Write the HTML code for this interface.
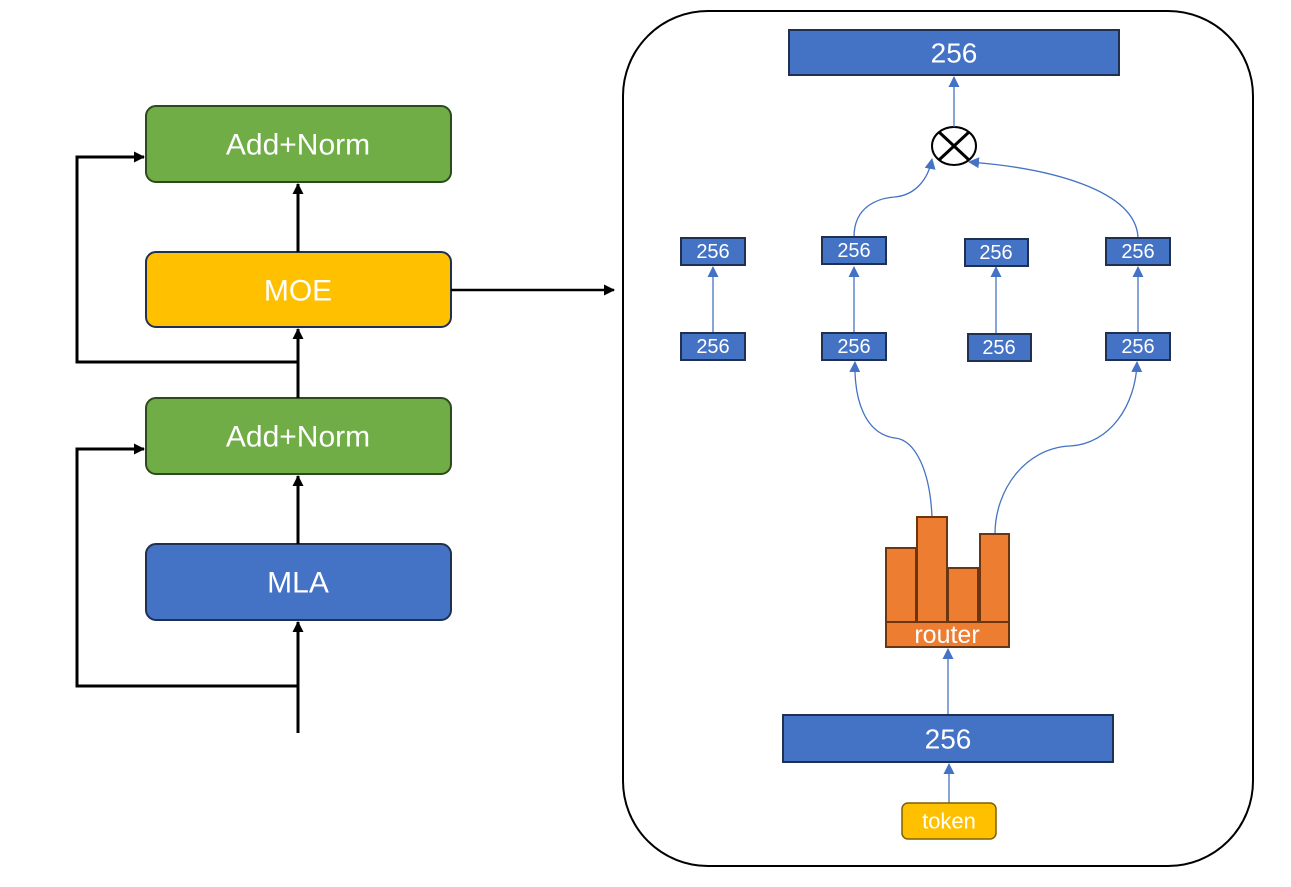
<!DOCTYPE html>
<html><head><meta charset="utf-8"><style>html,body{margin:0;padding:0;background:#fff}svg{display:block}text{font-family:"Liberation Sans",sans-serif;fill:#fff;text-anchor:middle;dominant-baseline:central}</style></head><body>
<svg width="1291" height="887" viewBox="0 0 1291 887" xmlns="http://www.w3.org/2000/svg">
<defs>
<marker id="ak" markerWidth="11" markerHeight="11" refX="10" refY="5.5" orient="auto" markerUnits="userSpaceOnUse"><path d="M0,0 L11,5.5 L0,11 z" fill="#000"/></marker>
<marker id="ab" markerWidth="11" markerHeight="11" refX="10" refY="5.5" orient="auto" markerUnits="userSpaceOnUse"><path d="M0,0 L11,5.5 L0,11 z" fill="#4472C4"/></marker>
</defs>
<rect x="146" y="106" width="305" height="76" rx="10" fill="#70AD47" stroke="#2E4A1C" stroke-width="2"/>
<text x="298" y="145" font-size="30">Add+Norm</text>
<rect x="146" y="252" width="305" height="75" rx="10" fill="#FFC000" stroke="#1F3050" stroke-width="2"/>
<text x="298" y="291" font-size="30">MOE</text>
<rect x="146" y="398" width="305" height="76" rx="10" fill="#70AD47" stroke="#2E4A1C" stroke-width="2"/>
<text x="298" y="437" font-size="30">Add+Norm</text>
<rect x="146" y="544" width="305" height="76" rx="10" fill="#4472C4" stroke="#1F3050" stroke-width="2"/>
<text x="298" y="583" font-size="30">MLA</text>
<g stroke="#000" stroke-width="3" fill="none">
<line x1="298" y1="733" x2="298" y2="622" marker-end="url(#ak)"/>
<line x1="298" y1="544" x2="298" y2="476" marker-end="url(#ak)"/>
<line x1="298" y1="398" x2="298" y2="329" marker-end="url(#ak)"/>
<line x1="298" y1="252" x2="298" y2="184" marker-end="url(#ak)"/>
<polyline points="298,686 77,686 77,449 144,449" marker-end="url(#ak)"/>
<polyline points="298,362 77,362 77,157 144,157" marker-end="url(#ak)"/>
<line x1="451" y1="290" x2="614" y2="290" stroke-width="2.5" marker-end="url(#ak)"/>
</g>
<rect x="623" y="11" width="630" height="855" rx="85" fill="none" stroke="#000" stroke-width="2"/>
<rect x="789" y="30" width="330" height="45" fill="#4472C4" stroke="#1F3050" stroke-width="2"/>
<text x="954" y="53" font-size="28">256</text>
<ellipse cx="954" cy="146" rx="22" ry="19" fill="#fff" stroke="#000" stroke-width="2"/>
<line x1="939" y1="132" x2="969" y2="160" stroke="#000" stroke-width="3"/>
<line x1="969" y1="132" x2="939" y2="160" stroke="#000" stroke-width="3"/>
<g stroke="#4472C4" stroke-width="1.3" fill="none">
<line x1="954" y1="127" x2="954" y2="77" marker-end="url(#ab)"/>
<path d="M854,237 C854,205 880,198 895,197 C915,195 928,180 932,159" marker-end="url(#ab)"/>
<path d="M1138,237 C1135,190 1050,168 969,162" marker-end="url(#ab)"/>
<line x1="713" y1="333" x2="713" y2="267" marker-end="url(#ab)"/>
<line x1="854" y1="333" x2="854" y2="267" marker-end="url(#ab)"/>
<line x1="996" y1="333" x2="996" y2="267" marker-end="url(#ab)"/>
<line x1="1138" y1="333" x2="1138" y2="267" marker-end="url(#ab)"/>
<path d="M932,517 C930,470 915,440 895,438 C865,434 854,400 855,362" marker-end="url(#ab)"/>
<path d="M995,534 C995,490 1025,448 1070,446 C1110,444 1136,405 1137,362" marker-end="url(#ab)"/>
<line x1="948" y1="715" x2="948" y2="649" marker-end="url(#ab)"/>
<line x1="949" y1="803" x2="949" y2="764" marker-end="url(#ab)"/>
</g>
<g fill="#4472C4" stroke="#1F3050" stroke-width="2">
<rect x="681" y="238" width="64" height="27"/><rect x="822" y="237" width="64" height="27"/>
<rect x="965" y="239" width="63" height="27"/><rect x="1106" y="238" width="64" height="27"/>
<rect x="681" y="333" width="64" height="27"/><rect x="822" y="333" width="64" height="27"/>
<rect x="968" y="334" width="63" height="27"/><rect x="1106" y="333" width="64" height="27"/>
</g>
<g font-size="20">
<text x="713" y="252">256</text><text x="854" y="251">256</text><text x="996" y="253">256</text><text x="1138" y="252">256</text>
<text x="713" y="347">256</text><text x="854" y="347">256</text><text x="999" y="348">256</text><text x="1138" y="347">256</text>
</g>
<g fill="#ED7D31" stroke="#6B3510" stroke-width="2">
<rect x="886" y="548" width="30" height="74"/>
<rect x="917" y="517" width="30" height="106"/>
<rect x="948" y="568" width="30" height="54"/>
<rect x="980" y="534" width="29" height="88"/>
<rect x="886" y="622" width="123" height="25"/>
</g>
<text x="947" y="635" font-size="25">router</text>
<rect x="783" y="715" width="330" height="47" fill="#4472C4" stroke="#1F3050" stroke-width="2"/>
<text x="948" y="739" font-size="28">256</text>
<rect x="902" y="803" width="94" height="36" rx="6" fill="#FFC000" stroke="#7F6000" stroke-width="1.5"/>
<text x="949" y="821" font-size="22">token</text>
</svg>
</body></html>
